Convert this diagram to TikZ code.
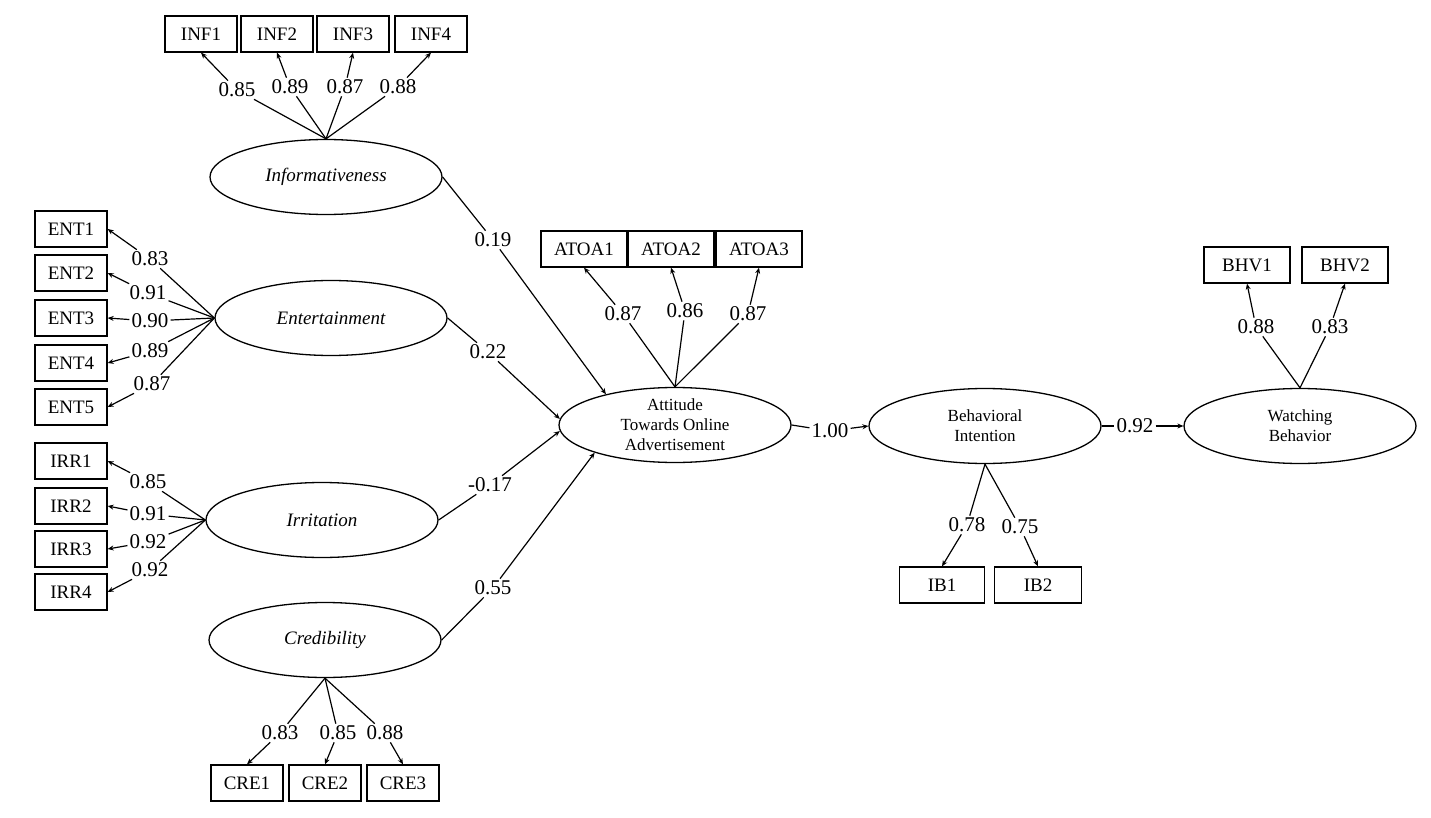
\documentclass[tikz,border=0pt]{standalone}
\usepackage{fontspec}
\setmainfont{Liberation Serif}
\usetikzlibrary{shapes.geometric,arrows.meta}
\begin{document}
\begin{tikzpicture}[x=1pt,y=-1pt,
  box/.style={draw,line width=1.3pt,minimum width=72pt,minimum height=36pt,inner sep=1pt,font=\fontsize{19}{21}\selectfont},
  wbox/.style={box,minimum width=86pt},
  lat/.style={draw,ellipse,line width=1.3pt,minimum width=232pt,minimum height=75pt,inner sep=0pt,font=\fontsize{19}{21}\selectfont\itshape},
  lat2/.style={lat,font=\fontsize{17}{20}\selectfont,align=center},
  lab/.style={inner sep=2pt,font=\fontsize{21}{24}\selectfont},
  ln/.style={line width=1.2pt},
  ar/.style={line width=1.2pt,-{Stealth[length=6pt,width=5pt]}}]
\useasboundingbox (0,0) rectangle (1431,818);
% Informativeness
\node[lat] (inf) at (326,177) {Informativeness};
\node[box] (inf1) at (201,34) {INF1};
\node[box] (inf2) at (277,34) {INF2};
\node[box] (inf3) at (353,34) {INF3};
\node[box] (inf4) at (431,34) {INF4};
\node[lab] (li1) at (237,90) {0.85};
\node[lab] (li2) at (290,87) {0.89};
\node[lab] (li3) at (345,87) {0.87};
\node[lab] (li4) at (398,87) {0.88};
\foreach \i in {1,...,4}{\draw[ln] (inf.north) -- (li\i); \draw[ar] (li\i) -- (inf\i.south);}
% Entertainment
\node[lat] (ent) at (331,318) {Entertainment};
\node[box] (ent1) at (71,229) {ENT1};
\node[box] (ent2) at (71,273) {ENT2};
\node[box] (ent3) at (71,318) {ENT3};
\node[box] (ent4) at (71,363) {ENT4};
\node[box] (ent5) at (71,407) {ENT5};
\node[lab] (le1) at (150,259) {0.83};
\node[lab] (le2) at (148,293) {0.91};
\node[lab] (le3) at (150,321) {0.90};
\node[lab] (le4) at (150,351) {0.89};
\node[lab] (le5) at (152,384) {0.87};
\foreach \i in {1,...,5}{\draw[ln] (ent.west) -- (le\i); \draw[ar] (le\i) -- (ent\i.east);}
% Irritation
\node[lat] (irr) at (322,520) {Irritation};
\node[box] (irr1) at (71,461) {IRR1};
\node[box] (irr2) at (71,506) {IRR2};
\node[box] (irr3) at (71,549) {IRR3};
\node[box] (irr4) at (71,592) {IRR4};
\node[lab] (lr1) at (148,482) {0.85};
\node[lab] (lr2) at (148,514) {0.91};
\node[lab] (lr3) at (148,542) {0.92};
\node[lab] (lr4) at (150,570) {0.92};
\foreach \i in {1,...,4}{\draw[ln] (irr.west) -- (lr\i); \draw[ar] (lr\i) -- (irr\i.east);}
% Credibility
\node[lat] (cre) at (325,640) {Credibility};
\node[box] (cre1) at (247,783) {CRE1};
\node[box] (cre2) at (325,783) {CRE2};
\node[box] (cre3) at (403,783) {CRE3};
\node[lab] (lc1) at (280,733) {0.83};
\node[lab] (lc2) at (338,733) {0.85};
\node[lab] (lc3) at (385,733) {0.88};
\foreach \i in {1,...,3}{\draw[ln] (cre.south) -- (lc\i); \draw[ar] (lc\i) -- (cre\i.north);}
% Attitude
\node[lat2] (att) at (675,425) {Attitude\\Towards Online\\Advertisement};
\node[wbox] (atoa1) at (584,249) {ATOA1};
\node[wbox] (atoa2) at (671,249) {ATOA2};
\node[wbox] (atoa3) at (759,249) {ATOA3};
\node[lab] (la1) at (623,314) {0.87};
\node[lab] (la2) at (685,311) {0.86};
\node[lab] (la3) at (748,314) {0.87};
\foreach \i in {1,...,3}{\draw[ln] (att.north) -- (la\i); \draw[ar] (la\i) -- (atoa\i.south);}
% structural
\node[lab] (s1) at (493,240) {0.19};
\node[lab] (s2) at (488,352) {0.22};
\node[lab] (s3) at (490,485) {-0.17};
\node[lab] (s4) at (493,588) {0.55};
\draw[ln] (inf.east) -- (s1); \draw[ar] (s1) -- (att.156);
\draw[ln] (ent.east) -- (s2); \draw[ar] (s2) -- (att.177);
\draw[ln] (irr.east) -- (s3); \draw[ar] (s3) -- (att.183);
\draw[ln] (cre.east) -- (s4); \draw[ar] (s4) -- (att.199);
% Behavioral intention
\node[lat2] (beh) at (985,426) {Behavioral\\Intention};
\node[lab] (s5) at (830,431) {1.00};
\draw[ln] (att.east) -- (s5); \draw[ar] (s5) -- (beh.west);
\node[box,minimum width=85pt] (ib1) at (942,585) {IB1};
\node[box,minimum width=87pt] (ib2) at (1038,585) {IB2};
\node[lab] (lb1) at (967,525) {0.78};
\node[lab] (lb2) at (1020,527) {0.75};
\draw[ln] (beh.south) -- (lb1); \draw[ar] (lb1) -- (ib1.north);
\draw[ln] (beh.south) -- (lb2); \draw[ar] (lb2) -- (ib2.north);
% Watching
\node[lat2] (wat) at (1300,426) {Watching\\Behavior};
\node[lab] (s6) at (1135,426) {0.92};
\draw[ln] (beh.east) -- (s6); \draw[ar] (s6) -- (wat.west);
\node[wbox] (bhv1) at (1247,265) {BHV1};
\node[wbox] (bhv2) at (1345,265) {BHV2};
\node[lab] (lw1) at (1256,327) {0.88};
\node[lab] (lw2) at (1330,327) {0.83};
\draw[ln] (wat.north) -- (lw1); \draw[ar] (lw1) -- (bhv1.south);
\draw[ln] (wat.north) -- (lw2); \draw[ar] (lw2) -- (bhv2.south);
\end{tikzpicture}
\end{document}
